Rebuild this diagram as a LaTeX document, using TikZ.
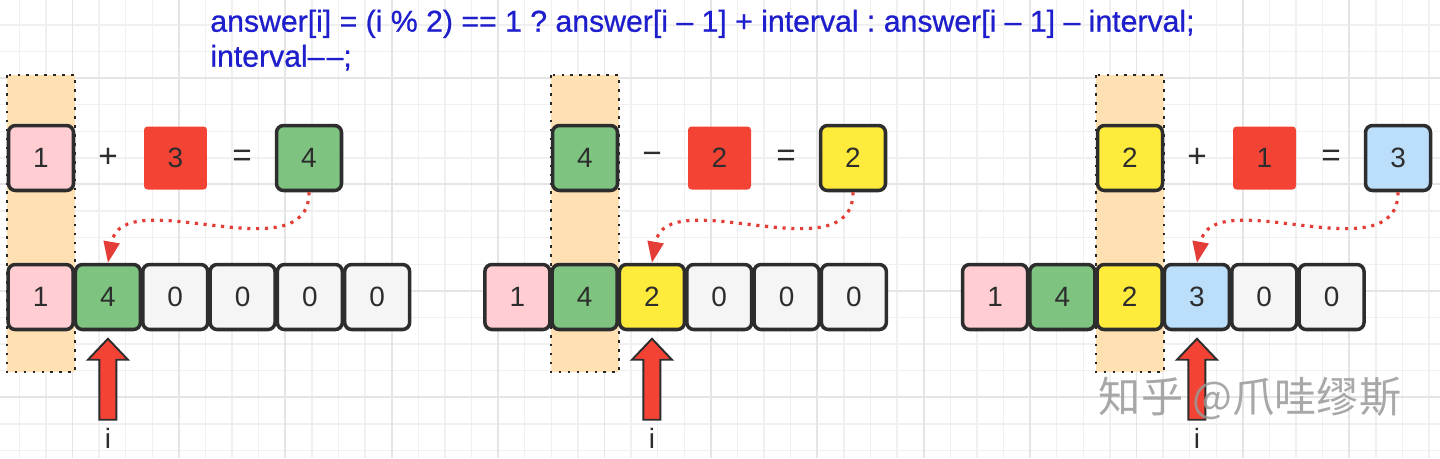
\documentclass[tikz,border=0pt]{standalone}
\usepackage{fontspec}
\setmainfont{Liberation Sans}
\newfontfamily\codefont[FakeBold=0.7]{Liberation Sans}
\newfontfamily\cjk{Noto Sans CJK SC}
\usetikzlibrary{arrows.meta}

\definecolor{codeblue}{RGB}{30,30,205}
\definecolor{ink}{RGB}{45,45,45}
\definecolor{cpink}{RGB}{255,205,210}
\definecolor{cgreen}{RGB}{126,196,128}
\definecolor{cyellow}{RGB}{255,235,59}
\definecolor{cblue}{RGB}{187,222,251}
\definecolor{cgray}{RGB}{245,245,245}
\definecolor{cred}{RGB}{243,67,52}
\definecolor{cpeach}{RGB}{255,224,178}
\definecolor{dotred}{RGB}{228,60,55}
\definecolor{gridminor}{RGB}{240,240,240}
\definecolor{gridmajor}{RGB}{229,229,229}

\tikzset{
  num/.style={font=\fontsize{15.9}{18}\selectfont, text=ink},
  box/.style={num, draw=ink, line width=2pt, rounded corners=4pt, minimum size=1.3cm, inner sep=0pt},
  cell/.style={box},
  stepbox/.style={num, fill=cred, rounded corners=2pt, minimum size=1.26cm, inner sep=0pt},
  sign/.style={font=\fontsize{19}{22}\selectfont, text=ink, inner sep=0pt},
  window/.style={fill=cpeach, draw=black!85, line width=1.5pt, dash pattern=on 1.5pt off 3.6pt},
  copyline/.style={draw=dotred, line width=1.8pt, dash pattern=on 1.8pt off 3.2pt, -{Triangle[length=12pt,width=9pt]}},
  pointer/.style={fill=cred, draw=ink, line width=1.1pt},
  idx/.style={num, anchor=base, inner sep=0pt},
  code/.style={anchor=base west, inner sep=0pt, text=codeblue, font=\codefont\fontsize{17.2}{20}\selectfont\frenchspacing},
  stamp/.style={text=black!40, opacity=0.85, font=\cjk\fontsize{24}{28}\selectfont},
}

\begin{document}
\begin{tikzpicture}[x=0.02cm, y=0.02cm]
\useasboundingbox (0,0) rectangle (1440,-458);
\fill[white] (0,0) rectangle (1440,-458);

% grid paper
\foreach \n in {0,...,53} \draw[gridminor, line width=0.8pt] ({19.3+26.6*\n},0) -- ({19.3+26.6*\n},-458);
\foreach \n in {0,...,16} \draw[gridminor, line width=0.8pt] (0,{-24.8-26.6*\n}) -- (1440,{-24.8-26.6*\n});
\foreach \n in {0,...,12} \draw[gridmajor, line width=1.1pt] ({72.5+106.4*\n},0) -- ({72.5+106.4*\n},-458);
\foreach \n in {0,...,3} \draw[gridmajor, line width=1.1pt] (0,{-78-106.4*\n}) -- (1440,{-78-106.4*\n});

\node[code] (line1) at (210,-31.7) {answer[i] = (i \% 2) == 1 ? answer[i – 1] + interval : answer[i – 1] – interval;};
\node[code] (line2) at (210,-66.7) {interval\mbox{–}\kern1.2pt\mbox{–};};

% i = 1
\begin{scope}[shift={(7,0)}]
\path[window] (0,-75) rectangle (68,-372);
\node[box, fill=cpink] (lhsA) at (34,-158) {1};
\node[sign] (opA) at (101,-158) {+};
\node[stepbox] (gapA) at (168.5,-158) {3};
\node[sign] (eqA) at (235,-158) {=};
\node[box, fill=cgreen] (resA) at (302,-158) {4};
\node[cell, fill=cpink] (A0) at (33.65,-297) {1};
\node[cell, fill=cgreen] (A1) at (100.95,-297) {4};
\node[cell, fill=cgray] (A2) at (168.25,-297) {0};
\node[cell, fill=cgray] (A3) at (235.55,-297) {0};
\node[cell, fill=cgray] (A4) at (302.85,-297) {0};
\node[cell, fill=cgray] (A5) at (370.15,-297) {0};
\draw[pointer] (A1.south) ++(0,-7.5) -- ++(20,-21) -- ++(-11.5,0) -- ++(0,-60) -- ++(-17,0) -- ++(0,60) -- ++(-11.5,0) -- cycle;
\node[idx] (iA) at (101,-448) {i};
\draw[copyline] (resA.south) to[out=-90, in=80] (A1.north);
\end{scope}

% i = 2
\begin{scope}[shift={(551,0)}]
\path[window] (0,-75) rectangle (68,-372);
\node[box, fill=cgreen] (lhsB) at (34,-158) {4};
\node[sign] (opB) at (101,-158) {−};
\node[stepbox] (gapB) at (168.5,-158) {2};
\node[sign] (eqB) at (235,-158) {=};
\node[box, fill=cyellow] (resB) at (302,-158) {2};
\node[cell, fill=cpink] (B0) at (-33.65,-297) {1};
\node[cell, fill=cgreen] (B1) at (33.65,-297) {4};
\node[cell, fill=cyellow] (B2) at (100.95,-297) {2};
\node[cell, fill=cgray] (B3) at (168.25,-297) {0};
\node[cell, fill=cgray] (B4) at (235.55,-297) {0};
\node[cell, fill=cgray] (B5) at (302.85,-297) {0};
\draw[pointer] (B2.south) ++(0,-7.5) -- ++(20,-21) -- ++(-11.5,0) -- ++(0,-60) -- ++(-17,0) -- ++(0,60) -- ++(-11.5,0) -- cycle;
\node[idx] (iB) at (101,-448) {i};
\draw[copyline] (resB.south) to[out=-90, in=80] (B2.north);
\end{scope}

% i = 3
\begin{scope}[shift={(1096,0)}]
\path[window] (0,-75) rectangle (68,-372);
\node[box, fill=cyellow] (lhsC) at (34,-158) {2};
\node[sign] (opC) at (101,-158) {+};
\node[stepbox] (gapC) at (168.5,-158) {1};
\node[sign] (eqC) at (235,-158) {=};
\node[box, fill=cblue] (resC) at (302,-158) {3};
\node[cell, fill=cpink] (C0) at (-100.95,-297) {1};
\node[cell, fill=cgreen] (C1) at (-33.65,-297) {4};
\node[cell, fill=cyellow] (C2) at (33.65,-297) {2};
\node[cell, fill=cblue] (C3) at (100.95,-297) {3};
\node[cell, fill=cgray] (C4) at (168.25,-297) {0};
\node[cell, fill=cgray] (C5) at (235.55,-297) {0};
\draw[pointer] (C3.south) ++(0,-7.5) -- ++(20,-21) -- ++(-11.5,0) -- ++(0,-60) -- ++(-17,0) -- ++(0,60) -- ++(-11.5,0) -- cycle;
\node[idx] (iC) at (101,-448) {i};
\draw[copyline] (resC.south) to[out=-90, in=80] (C3.north);
\end{scope}

\node[stamp] (wm) at (1250,-398) {知乎 @爪哇缪斯};
\end{tikzpicture}
\end{document}
